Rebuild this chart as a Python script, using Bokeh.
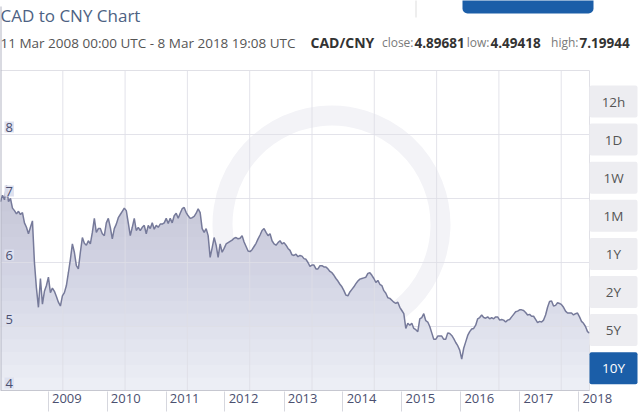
import numpy as np
import pandas as pd
from bokeh.plotting import figure
from bokeh.models import Range1d, FixedTicker, DatetimeTickFormatter, Label, BoxAnnotation
from bokeh.embed import file_html
from bokeh.resources import INLINE

# ---------------- data ----------------
title_text = "CAD to CNY Chart"
period_text = "11 Mar 2008 00:00 UTC - 8 Mar 2018 19:08 UTC"
pair_text = "CAD/CNY"
stat_names = ["close:", "low:", "high:"]
stat_values = ["4.89681", "4.49418", "7.19944"]
start_date = "2008-03-11 00:00"
end_date = "2018-03-08 19:08"

rate = [
    6.95, 7.05, 6.98, 7.20, 6.95, 7.00, 6.85, 6.81, 6.76, 6.80,
    6.75, 6.78, 6.62, 6.55, 6.45, 6.55, 6.65, 6.00, 5.60, 5.30,
    5.75, 5.35, 5.55, 5.64, 5.77, 5.53, 5.60, 5.55, 5.47, 5.38,
    5.32, 5.48, 5.53, 5.64, 5.84, 6.05, 6.29, 6.16, 5.95, 5.90,
    6.16, 6.39, 6.30, 6.27, 6.34, 6.29, 6.47, 6.69, 6.47, 6.53,
    6.53, 6.45, 6.42, 6.62, 6.69, 6.55, 6.37, 6.53, 6.60, 6.70,
    6.75, 6.80, 6.85, 6.81, 6.62, 6.42, 6.55, 6.69, 6.50, 6.55,
    6.50, 6.55, 6.58, 6.45, 6.58, 6.53, 6.62, 6.52, 6.58, 6.55,
    6.60, 6.60, 6.62, 6.69, 6.61, 6.69, 6.62, 6.73, 6.77, 6.69,
    6.77, 6.84, 6.86, 6.78, 6.73, 6.69, 6.70, 6.72, 6.77, 6.84,
    6.78, 6.53, 6.47, 6.53, 6.42, 6.08, 6.23, 6.39, 6.27, 6.08,
    6.29, 6.16, 6.22, 6.29, 6.31, 6.33, 6.35, 6.38, 6.39, 6.37,
    6.38, 6.42, 6.32, 6.25, 6.18, 6.17, 6.20, 6.25, 6.30, 6.37,
    6.43, 6.50, 6.53, 6.47, 6.42, 6.45, 6.34, 6.29, 6.27, 6.31,
    6.34, 6.29, 6.31, 6.27, 6.22, 6.19, 6.12, 6.11, 6.13, 6.09,
    6.11, 6.10, 6.06, 6.05, 6.00, 5.94, 5.96, 5.96, 5.90, 5.90,
    5.95, 5.95, 5.93, 5.93, 5.90, 5.86, 5.84, 5.80, 5.75, 5.71,
    5.66, 5.62, 5.56, 5.49, 5.48, 5.54, 5.58, 5.62, 5.67, 5.71,
    5.74, 5.75, 5.76, 5.77, 5.83, 5.84, 5.80, 5.75, 5.69, 5.72,
    5.66, 5.64, 5.56, 5.52, 5.45, 5.44, 5.41, 5.38, 5.36, 5.38,
    5.30, 5.25, 5.20, 4.97, 5.05, 5.02, 5.05, 4.97, 4.95, 4.92,
    5.12, 5.14, 5.20, 5.09, 5.07, 5.00, 4.90, 4.80, 4.80, 4.85,
    4.85, 4.85, 4.80, 4.80, 4.90, 4.89, 4.86, 4.81, 4.75, 4.70,
    4.63, 4.49, 4.66, 4.76, 4.86, 4.92, 4.96, 4.97, 5.02, 5.12,
    5.14, 5.18, 5.14, 5.13, 5.15, 5.12, 5.14, 5.12, 5.15, 5.15,
    5.10, 5.11, 5.10, 5.07, 5.10, 5.11, 5.15, 5.19, 5.23, 5.24,
    5.26, 5.26, 5.25, 5.22, 5.18, 5.19, 5.16, 5.16, 5.11, 5.06,
    5.08, 5.07, 5.10, 5.18, 5.30, 5.39, 5.40, 5.32, 5.33, 5.37,
    5.36, 5.34, 5.30, 5.24, 5.21, 5.21, 5.21, 5.18, 5.20, 5.21,
    5.15, 5.08, 5.05, 5.00, 4.92, 4.89681,
]

year_labels = [2009, 2010, 2011, 2012, 2013, 2014, 2015, 2016, 2017, 2018]
y_ticks = [4, 5, 6, 7, 8]
y_top = 9
range_buttons = ["12h", "1D", "1W", "1M", "1Y", "2Y", "5Y", "10Y"]
active_button = "10Y"

# ---------------- layout ----------------
W, H_FRAME, BOTTOM = 640, 391, 21
CHART_W = 589          # width of the chart area inside the canvas
PX_PER_UNIT = 64
FONT = "Open Sans"
TXT = "#4b5070"
BLUE = "#1b5ea8"


def sy(page_y):
    """screen-y used by annotations (from frame bottom, upward)"""
    return H_FRAME - page_y


dates = pd.date_range(start_date, end_date, periods=len(rate))
v = np.array(rate, dtype=float)
t0, t1 = dates[0], dates[-1]
span = t1 - t0
x_end = t0 + span * (W / CHART_W)
y_lo = y_ticks[0] - 1 / PX_PER_UNIT
y_hi = y_lo + H_FRAME / PX_PER_UNIT

p = figure(x_axis_type="datetime", y_axis_location=None, title=None,
           frame_width=W, frame_height=H_FRAME,
           min_border_left=0, min_border_right=0, min_border_top=0, min_border_bottom=BOTTOM,
           x_range=Range1d(t0, x_end), y_range=Range1d(y_lo, y_hi),
           output_backend="svg", toolbar_location=None,
           background_fill_color="white", border_fill_color="white")
p.outline_line_color = None
p.grid.visible = False

# faint watermark ring (open at the lower left)
p.arc(x=[t0 + span * (331 / CHART_W)], y=[y_ticks[0] + (390 - 224) / PX_PER_UNIT],
      radius=109, radius_units="screen", start_angle=-1.75, end_angle=3.4,
      line_color="#f3f3f7", line_width=20)

# area with a vertical gradient made of stacked translucent layers
p.varea(x=dates, y1=y_ticks[0], y2=v, fill_color="#eceef5", fill_alpha=1.0)
for lev in np.arange(4.2, 7.01, 0.2):
    p.varea(x=dates, y1=np.minimum(v, lev), y2=v, fill_color="#8a8fb5", fill_alpha=0.022)

# grid lines and chart border, limited to the chart area
grid_x = [t0 + span * (k * 62.3 / CHART_W) for k in range(1, 10)]
p.segment(x0=grid_x, y0=[y_ticks[0]] * len(grid_x), x1=grid_x, y1=[y_top] * len(grid_x),
          line_color="#dedee6", line_alpha=0.85, line_width=1)
p.segment(x0=[t0] * (len(y_ticks) - 1), y0=y_ticks[1:], x1=[t1] * (len(y_ticks) - 1),
          y1=y_ticks[1:], line_color="#dedee6", line_alpha=0.85, line_width=1)
p.segment(x0=[t0, t1], y0=[y_top, y_ticks[0]], x1=[t1, t1], y1=[y_top, y_top],
          line_color="#e0e0e6", line_width=1)
p.segment(x0=[t0], y0=[y_ticks[0]], x1=[t1], y1=[y_ticks[0]], line_color="#c6c7d0", line_width=1)
p.segment(x0=[t0], y0=[y_ticks[0]], x1=[t0], y1=[y_top + 1], line_color="#b3b5c4", line_width=2)

p.line(x=dates, y=v, line_color="#767a9a", line_width=1.5)

# x axis: short separators at each year start, labels just to their right
year_starts = [pd.Timestamp(f"{y}-01-01") for y in year_labels]
label_pos = [(ys + pd.Timedelta(days=115)).value / 1e6 for ys in year_starts]
xa = p.xaxis[0]
xa.ticker = FixedTicker(ticks=label_pos, minor_ticks=[ys.value / 1e6 for ys in year_starts])
xa.formatter = DatetimeTickFormatter(years="%Y", months="%Y", days="%Y", hours="%Y")
xa.axis_line_color = None
xa.major_tick_line_color = None
xa.major_tick_in = 0
xa.major_tick_out = 0
xa.minor_tick_in = 0
xa.minor_tick_out = 20
xa.minor_tick_line_color = "#d6d7de"
xa.major_label_standoff = -18
xa.major_label_text_font = FONT
xa.major_label_text_font_size = "13px"
xa.major_label_text_color = TXT

# y labels inside the plot
for t in y_ticks:
    p.add_layout(Label(x=4, y=t, x_units="screen", text=str(t), y_offset=2,
                       text_baseline="bottom", text_align="left",
                       text_font=FONT, text_font_size="13px", text_color=TXT,
                       background_fill_color="#dcdfee", background_fill_alpha=0.95,
                       padding=1))

# header
p.add_layout(Label(x=0, y=sy(15), x_units="screen", y_units="screen", text=title_text,
                   text_font=FONT, text_font_size="17px", text_color="#4d6283",
                   text_baseline="alphabetic"))
p.add_layout(Label(x=0, y=sy(42), x_units="screen", y_units="screen", text=period_text,
                   text_font=FONT, text_font_size="13.5px", text_color="#555555",
                   text_baseline="middle"))
p.add_layout(Label(x=310, y=sy(42), x_units="screen", y_units="screen", text=pair_text,
                   text_font=FONT, text_font_size="14px", text_font_style="bold",
                   text_color="#333333", text_baseline="middle"))
val_x = [414, 490, 579]
for n, vtx, vx in zip(stat_names, stat_values, val_x):
    p.add_layout(Label(x=vx - 1, y=sy(42), x_units="screen", y_units="screen", text=n,
                       text_font=FONT, text_font_size="12px", text_color="#7a7a7a",
                       text_baseline="middle", text_align="right"))
    p.add_layout(Label(x=vx, y=sy(42), x_units="screen", y_units="screen", text=vtx,
                       text_font=FONT, text_font_size="13.5px", text_font_style="bold",
                       text_color="#333333", text_baseline="middle"))


def box(l, r, top_page, bottom_page, color, radius=0):
    p.add_layout(BoxAnnotation(left=l, right=r, top=sy(top_page), bottom=sy(bottom_page),
                               left_units="screen", right_units="screen",
                               top_units="screen", bottom_units="screen",
                               fill_color=color, fill_alpha=1, line_color=None,
                               border_radius=radius))


box(415, 416, -2, 17, "#dddddd")
box(462, 593, -8, 13, BLUE, 5)

# range buttons on the right
for i, b in enumerate(range_buttons):
    yc = 101 + 38.1 * i
    active = b == active_button
    box(CHART_W, CHART_W + 48, yc - 16, yc + 16, BLUE if active else "#ededf1", 2)
    p.add_layout(Label(x=CHART_W + 24, y=sy(yc), x_units="screen", y_units="screen", text=b,
                       text_align="center", text_baseline="middle", text_font=FONT,
                       text_font_size="13.5px",
                       text_color="white" if active else "#555555"))

open("out.html", "w").write(file_html(p, INLINE))
